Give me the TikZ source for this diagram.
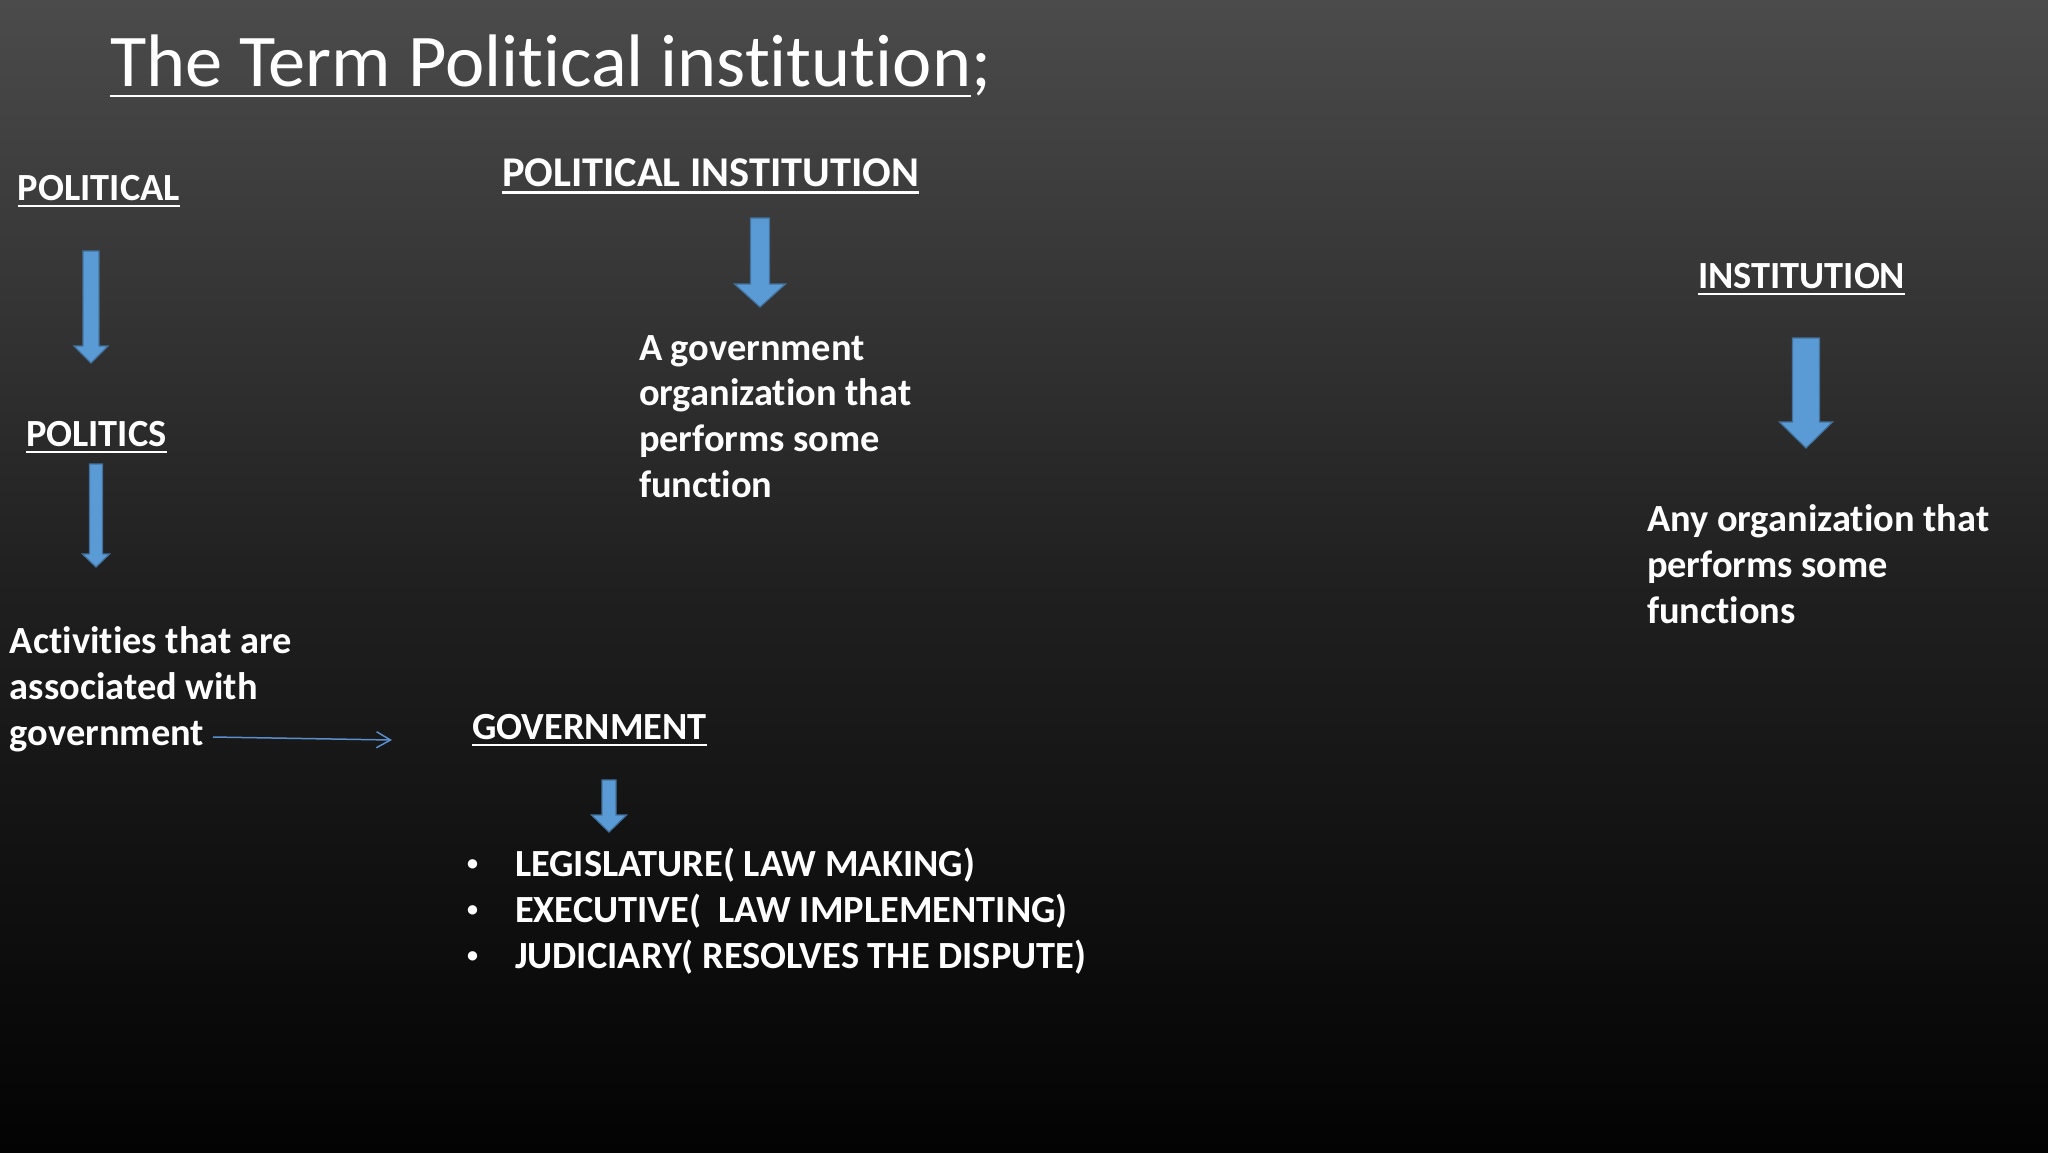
\documentclass[tikz,border=0pt]{standalone}
\usepackage{fontspec}
\setmainfont{Carlito}[Ligatures=NoCommon]
\usetikzlibrary{arrows.meta}
\definecolor{arrfill}{HTML}{5B9BD5}
\definecolor{arrline}{HTML}{41719C}
\definecolor{thinarr}{HTML}{5B8FCC}
\definecolor{bgtop}{HTML}{4B4B4B}
\definecolor{bgmid}{HTML}{202020}
\definecolor{bgbot}{HTML}{030303}
\newcommand\bodyfont{\bfseries\fontsize{19.2pt}{22.8pt}\selectfont}
\newcommand\bigheadfont{\bfseries\fontsize{21.2pt}{25pt}\selectfont}
\newcommand\titlefont{\fontsize{37.2pt}{44pt}\selectfont}
\newcommand\myul[3]{\setbox0\hbox{#3}\rlap{\rule[-#1]{\wd0}{#2}}\box0}
\newcommand\mybullet{\makebox[24pt][l]{\raisebox{3pt}{\fontsize{11pt}{11pt}\selectfont •}}}
% center x, top y, tip y, shaft half width, head half width, head length
\newcommand\blockarrow[6]{%
  \filldraw[blockarr] (#1-#4,#2) -- (#1+#4,#2) -- (#1+#4,#3-#6) -- (#1+#5,#3-#6)
    -- (#1,#3) -- (#1-#5,#3-#6) -- (#1-#4,#3-#6) -- cycle;}
\begin{document}
\begin{tikzpicture}[x=0.5pt,y=-0.5pt,
  txt/.style={text=white, inner sep=0pt, outer sep=0pt, anchor=base west, font=\bodyfont, align=left},
  blockarr/.style={fill=arrfill, draw=arrline, line width=0.6pt, line join=miter},
  thin/.style={draw=thinarr, line width=0.75pt, -{Straight Barb[length=7pt,width=8pt,line width=0.75pt]}}]
\useasboundingbox (0,0) rectangle (2048,1152);
\shade[top color=bgtop, bottom color=bgmid] (0,0) rectangle (2048,577);
\shade[top color=bgmid, bottom color=bgbot] (0,576) rectangle (2048,1152);

\node[txt, font=\titlefont] (title) at (110,86) {\myul{5.7pt}{1.4pt}{The Term Political institution};};

\node[txt] (pol) at (18,200) {\myul{3.6pt}{1.2pt}{POLITICAL}};
\node[txt] (politics) at (26,446) {\myul{3.6pt}{1.2pt}{POLITICS}};
\node[txt] (act) at (10,745) {Activities that are\\associated with\\government};

\node[txt, font=\bigheadfont] (polinst) at (502,186) {\myul{3.8pt}{1.3pt}{POLITICAL INSTITUTION}};
\node[txt] (def1) at (639,497) {A government\\organization that\\performs some\\function};

\node[txt] (inst) at (1698,288) {\myul{3.6pt}{1.2pt}{INSTITUTION}};
\node[txt] (def2) at (1647,623) {Any organization that\\performs some\\functions};

\node[txt] (gov) at (472,739) {\myul{3.6pt}{1.2pt}{GOVERNMENT}};
\node[txt] (list) at (467,968) {\mybullet LEGISLATURE( LAW MAKING)\\
\mybullet EXECUTIVE(~ LAW IMPLEMENTING)\\
\mybullet JUDICIARY( RESOLVES THE DISPUTE)};

\blockarrow{91}{251}{363}{8}{17}{17}
\blockarrow{96}{464}{567}{6.5}{13.5}{13}
\blockarrow{760}{218}{307}{9.5}{25.5}{23}
\blockarrow{1806}{338}{448}{13.5}{26.5}{26}
\blockarrow{609}{780}{832}{7}{17.5}{17}

\coordinate (hs) at (213,737);
\coordinate (he) at (392,740);
\draw[thin] (hs) -- (he);
\end{tikzpicture}
\end{document}
